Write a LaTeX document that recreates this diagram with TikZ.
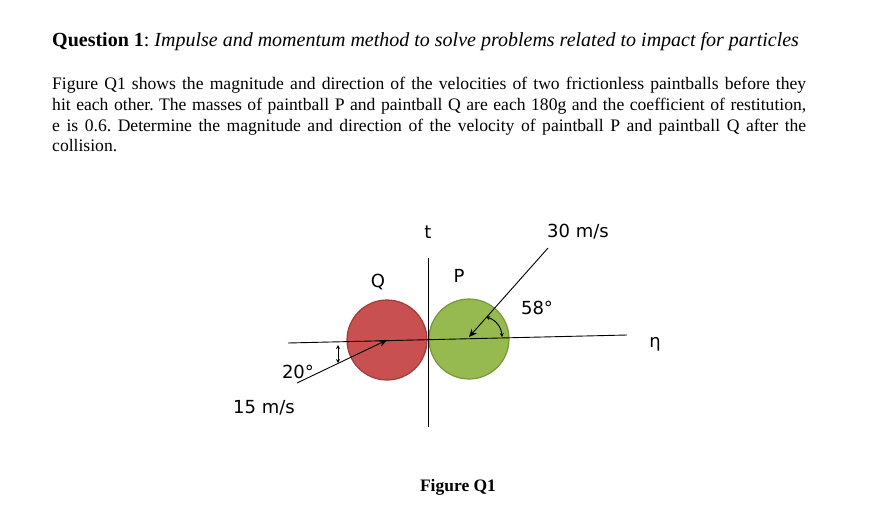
\documentclass[tikz,border=0pt]{standalone}
\usepackage{fontspec}
\setmainfont{Liberation Serif}
\setsansfont{DejaVu Sans}
\usetikzlibrary{arrows.meta}
\begin{document}
\frenchspacing
\begin{tikzpicture}[x=1pt,y=-1pt,
  hand/.style={font=\sffamily\fontsize{18}{20}\selectfont,inner sep=0pt},
  ax/.style={line width=0.9pt},
  vel/.style={line width=0.9pt,-{Stealth[length=8pt,width=7pt]}},
  dbl/.style={line width=0.9pt,{Stealth[length=4pt,width=4pt]}-{Stealth[length=4pt,width=4pt]}},
  ball/.style={circle,minimum size=80pt,line width=1.2pt,inner sep=0pt}]
\useasboundingbox (0,0) rectangle (886,522);
\node[anchor=west,font=\fontsize{20}{22}\selectfont,inner sep=0pt] (title) at (52,42)
  {\textbf{Question 1}: \textit{Impulse and momentum method to solve problems related to impact for particles}};
\node[anchor=north west,text width=754pt,align=justify,inner sep=0pt,
  font=\fontsize{17.6}{20.8}\selectfont] (para) at (52,77)
  {Figure Q1 shows the magnitude and direction of the velocities of two frictionless paintballs before they\linebreak
  hit each other. The masses of paintball P and paintball Q are each 180g and the coefficient of restitution,\linebreak
  e is 0.6. Determine the magnitude and direction of the velocity of paintball P and paintball Q after the\linebreak
  collision.};
\node[ball,draw={rgb,255:red,160;green,60;blue,60},fill={rgb,255:red,200;green,80;blue,80}] (Q) at (387,340) {};
\node[ball,draw={rgb,255:red,120;green,150;blue,60},fill={rgb,255:red,150;green,185;blue,80}] (P) at (469,339) {};
\coordinate (hl) at (288,343); \coordinate (hr) at (627,335);
\coordinate (vt) at (428,258); \coordinate (vb) at (428,427);
\draw[ax] (hl) -- (hr);
\draw[ax] (vt) -- (vb);
\coordinate (qs) at (297,383);
\draw[vel] (qs) -- (Q.center);
\coordinate (ps) at (548,248);
\coordinate (pc) at (469,337);
\draw[vel] (ps) -- (pc);
\coordinate (b1) at (486,317); \coordinate (b2) at (502,337);
\draw[dbl] (b1) to[bend left=35] (b2);
\coordinate (a1) at (338,345); \coordinate (a2) at (338,363);
\draw[dbl] (a1) -- (a2);
\node[hand] (tl) at (428,232) {t};
\node[hand] (vP) at (578,232) {30 m/s};
\node[hand] (Ql) at (378,282) {Q};
\node[hand] (Pl) at (459,276) {P};
\node[hand] (ang1) at (537,308) {58°};
\node[hand] (eta) at (655,344) {η};
\node[hand] (ang2) at (298,372) {20°};
\node[hand] (vQ) at (264,408) {15 m/s};
\node[font=\fontsize{17.5}{19}\selectfont\bfseries,inner sep=0pt] (cap) at (458,487) {Figure Q1};
\end{tikzpicture}
\end{document}
